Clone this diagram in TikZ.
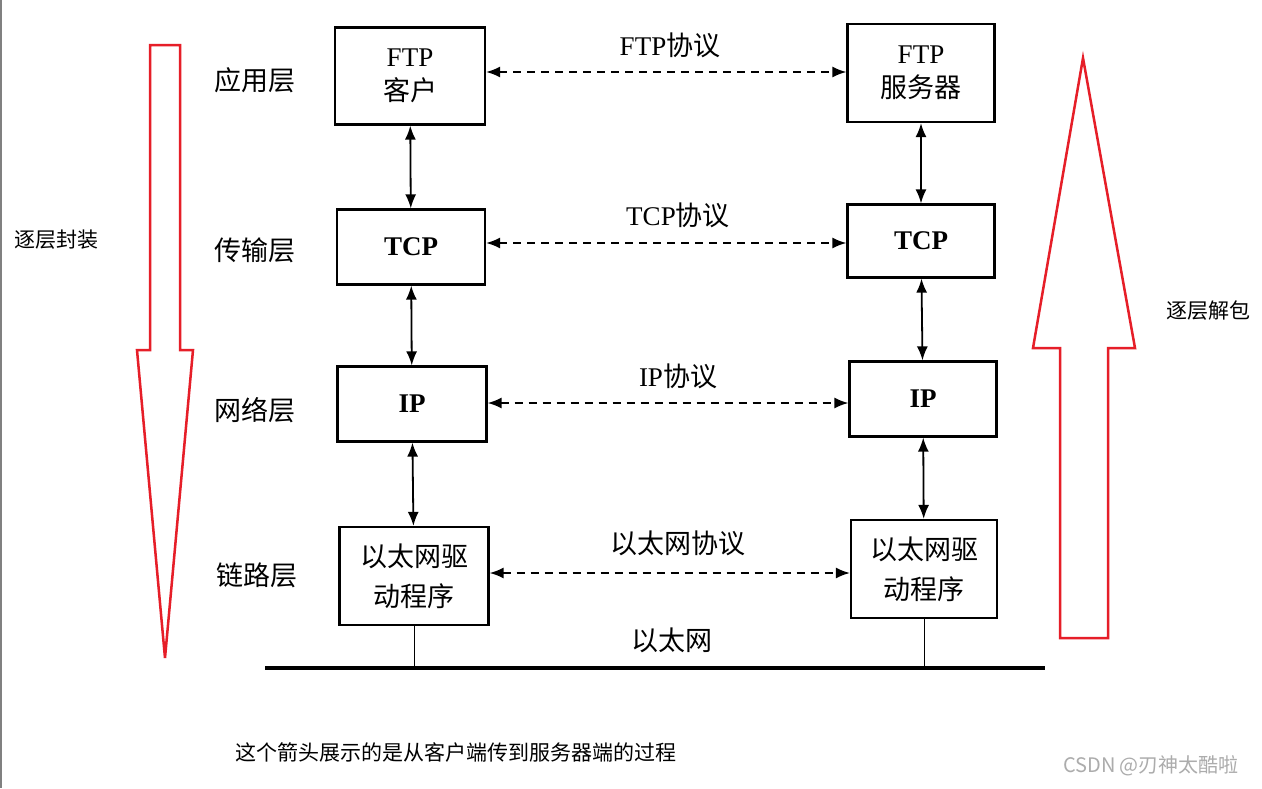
\documentclass[tikz,border=0pt]{standalone}
\usepackage{fontspec}
\setmainfont{Liberation Serif}
\newfontfamily\cjk{Noto Sans CJK SC}
\usetikzlibrary{arrows.meta}
\begin{document}
\begin{tikzpicture}[x=1pt,y=-1pt,
  box/.style={draw,line width=2.2pt,align=center,inner sep=0pt,font=\fontsize{27}{34}\selectfont},
  va/.style={{Latex[length=14pt,width=11pt]}-{Latex[length=14pt,width=11pt]},line width=1.8pt},
  da/.style={va,dash pattern=on 8pt off 6pt},
  lay/.style={font=\cjk\fontsize{27}{30}\selectfont},
  pl/.style={font=\fontsize{27}{30}\selectfont},
  red/.style={draw={rgb,255:red,230;green,30;blue,40},line width=2.5pt}]
\fill[white] (0,0) rectangle (1262,788);
\useasboundingbox (0,0) rectangle (1262,788);
\draw[gray,line width=1.5pt] (1,0) -- (1,788);
% boxes
\node[box,minimum width=150pt,minimum height=97pt] (ftpL) at (410,76) {FTP\\{\cjk 客户}};
\node[box,minimum width=147pt,minimum height=98pt] (ftpR) at (921,73) {FTP\\{\cjk 服务器}};
\node[box,minimum width=148pt,minimum height=75pt] (tcpL) at (411,247) {\textbf{TCP}};
\node[box,minimum width=147pt,minimum height=73pt] (tcpR) at (921,241) {\textbf{TCP}};
\node[box,minimum width=149pt,minimum height=75pt] (ipL) at (412,404) {\textbf{IP}};
\node[box,minimum width=147pt,minimum height=75pt] (ipR) at (923,399) {\textbf{IP}};
\node[box,minimum width=149pt,minimum height=98pt,font=\cjk\fontsize{27}{40}\selectfont] (ethL) at (414,576) {以太网驱\\动程序};
\node[box,minimum width=146pt,minimum height=98pt,font=\cjk\fontsize{27}{40}\selectfont] (ethR) at (924,569) {以太网驱\\动程序};
% vertical arrows
\draw[va] (ftpL) -- (tcpL); \draw[va] (tcpL) -- (ipL); \draw[va] (ipL) -- (ethL);
\draw[va] (ftpR) -- (tcpR); \draw[va] (tcpR) -- (ipR); \draw[va] (ipR) -- (ethR);
% dashed
\draw[da] (ftpL.east |- 0,72) -- (ftpR.west |- 0,72);
\draw[da] (tcpL.east |- 0,243) -- (tcpR.west |- 0,243);
\draw[da] (ipL.east |- 0,403) -- (ipR.west |- 0,403);
\draw[da] (ethL.east |- 0,573) -- (ethR.west |- 0,573);
\node[pl] (p1) at (670,45) {FTP{\cjk 协议}};
\node[pl] (p2) at (678,215) {TCP{\cjk 协议}};
\node[pl] (p3) at (678,376) {IP{\cjk 协议}};
\node[lay] (p4) at (678,543) {以太网协议};
\node[lay] (p5) at (672,640) {以太网};
% ethernet
\coordinate (e1) at (265,668); \coordinate (e2) at (1045,668);
\draw[line width=3.5pt] (e1) -- (e2);
\draw[line width=1pt] (ethL.south) -- (ethL.south |- e1);
\draw[line width=1pt] (ethR.south) -- (ethR.south |- e1);
% layers
\node[lay] (l1) at (255,80) {应用层};
\node[lay] (l2) at (255,250) {传输层};
\node[lay] (l3) at (255,410) {网络层};
\node[lay] (l4) at (257,575) {链路层};
% red arrows
\draw[red,line join=miter] (150,45) -- (180,45) -- (180,350) -- (193,350) -- (165,658) -- (137,350) -- (150,350) -- cycle;
\draw[red,line join=miter] (1083,58) -- (1135,348) -- (1108,348) -- (1108,638) -- (1060,638) -- (1060,348) -- (1033,348) -- cycle;
\node[font=\cjk\fontsize{21}{24}\selectfont] (t1) at (57,240) {逐层封装};
\node[font=\cjk\fontsize{21}{24}\selectfont] (t2) at (1208,311) {逐层解包};
\node[font=\cjk\fontsize{21}{24}\selectfont] (t3) at (456,752) {这个箭头展示的是从客户端传到服务器端的过程};
\node[font=\cjk\fontsize{20}{22}\selectfont,text=gray!65] (wm) at (1151,766) {CSDN @刃神太酷啦};
\end{tikzpicture}
\end{document}
